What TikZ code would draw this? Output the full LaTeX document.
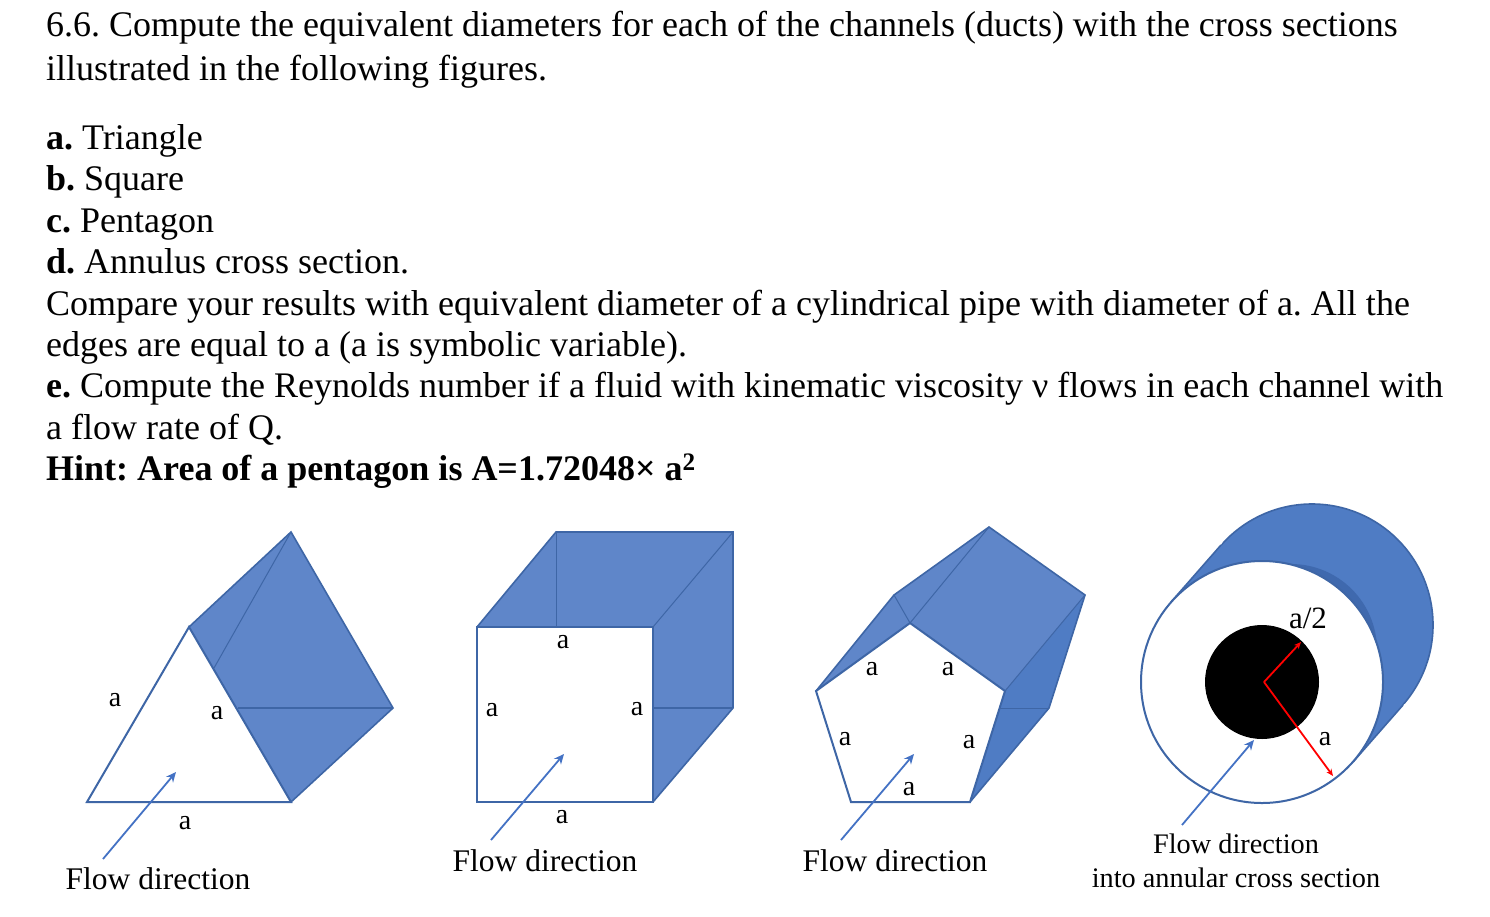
\documentclass[tikz,border=0pt]{standalone}
\usepackage{fontspec}
\setmainfont{Liberation Serif}
\usetikzlibrary{arrows.meta}
\frenchspacing
\definecolor{facefill}{HTML}{5F86C9}
\definecolor{sidefill}{HTML}{4F7CC4}
\definecolor{darkfill}{HTML}{3F69AE}
\definecolor{edgeblue}{HTML}{3E66A6}
\definecolor{flowblue}{HTML}{4472C4}
\tikzset{
    bodytext/.style={anchor=base west, inner sep=0pt, font=\fontsize{36}{40}\selectfont},
    edgelabel/.style={inner sep=0pt, font=\fontsize{28}{30}\selectfont},
    flowlabel/.style={inner sep=0pt, font=\fontsize{31.5}{36}\selectfont},
    flowarrow/.style={flowblue, line width=1.8pt, -{Stealth[length=10pt, width=9pt]}},
    radiusarrow/.style={red, line width=1.8pt, -{Stealth[length=7pt, width=6pt]}},
    faceline/.style={edgeblue, line width=1.6pt},
    outline/.style={edgeblue, line width=2pt, fill=white}
}
\begin{document}
\begin{tikzpicture}[x=1pt, y=-1pt]
    \useasboundingbox (0, 0) rectangle (1490, 916);
    \fill[white] (0, 0) rectangle (1490, 916);

    \node[bodytext] (line1) at (46, 36) {6.6. Compute the equivalent diameters for each of the channels (ducts) with the cross sections};
    \node[bodytext] (line2) at (46, 80) {illustrated in the following figures.};
    \node[bodytext] (itema) at (46, 149) {\textbf{a.} Triangle};
    \node[bodytext] (itemb) at (46, 190) {\textbf{b.} Square};
    \node[bodytext] (itemc) at (46, 232) {\textbf{c.} Pentagon};
    \node[bodytext] (itemd) at (46, 273) {\textbf{d.} Annulus cross section.};
    \node[bodytext] (line3) at (46, 315) {Compare your results with equivalent diameter of a cylindrical pipe with diameter of a. All the};
    \node[bodytext] (line4) at (46, 356) {edges are equal to a (a is symbolic variable).};
    \node[bodytext] (iteme) at (46, 397) {\textbf{e.} Compute the Reynolds number if a fluid with kinematic viscosity ν flows in each channel with};
    \node[bodytext] (line5) at (46, 439) {a flow rate of Q.};
    \node[bodytext] (hint) at (46, 480) {\textbf{Hint: Area of a pentagon is A=1.72048× a\textsuperscript{2}}};

    % triangle
    \coordinate (t1) at (87, 802);
    \coordinate (t2) at (291, 802);
    \coordinate (t3) at (189, 627);
    \coordinate (t4) at (291, 532);
    \coordinate (t5) at (393, 708);
    \coordinate (t6) at (214, 668);
    \coordinate (t7) at (238, 708);
    \fill[facefill] (t3) -- (t4) -- (t5) -- (t2) -- cycle;
    \draw[faceline] (t3) -- (t4) -- (t5) -- (t2);
    \draw[faceline, line width=1pt] (t4) -- (t6);
    \draw[faceline] (t7) -- (t5);
    \draw[outline] (t1) -- (t2) -- (t3) -- cycle;

    % square
    \coordinate (s1) at (477, 802);
    \coordinate (s2) at (653, 802);
    \coordinate (s3) at (653, 627);
    \coordinate (s4) at (477, 627);
    \coordinate (s5) at (556, 532);
    \coordinate (s6) at (733, 532);
    \coordinate (s7) at (733, 708);
    \coordinate (s8) at (653, 708);
    \coordinate (s9) at (556, 627);
    \fill[facefill] (s4) -- (s5) -- (s6) -- (s7) -- (s2) -- (s3) -- cycle;
    \draw[faceline] (s4) -- (s5) -- (s6) -- (s7) -- (s2);
    \draw[faceline, line width=1pt] (s5) -- (s9);
    \draw[faceline, line width=1pt] (s6) -- (s3);
    \draw[faceline] (s8) -- (s7);
    \draw[outline] (s1) rectangle (s3);

    % pentagon
    \coordinate (p1) at (851, 802);
    \coordinate (p2) at (970, 802);
    \coordinate (p3) at (1005, 691);
    \coordinate (p4) at (910, 623);
    \coordinate (p5) at (816, 691);
    \coordinate (p6) at (894, 595);
    \coordinate (p7) at (989, 527);
    \coordinate (p8) at (1085, 595);
    \coordinate (p9) at (1049, 708);
    \coordinate (p10) at (1000, 708);
    \fill[sidefill] (p3) -- (p8) -- (p9) -- (p2) -- cycle;
    \fill[facefill] (p5) -- (p6) -- (p7) -- (p8) -- (p3) -- (p4) -- cycle;
    \draw[faceline] (p5) -- (p6) -- (p7) -- (p8) -- (p9) -- (p2);
    \draw[faceline, line width=1pt] (p6) -- (p4) -- (p7);
    \draw[faceline, line width=1pt] (p8) -- (p3);
    \draw[faceline, line width=1pt] (p10) -- (p9);
    \draw[outline] (p1) -- (p2) -- (p3) -- (p4) -- (p5) -- cycle;

    % annulus
    \coordinate (c1) at (1262, 682);
    \coordinate (c2) at (1312, 625);
    \coordinate (r1) at (1264, 682);
    \coordinate (r2) at (1301, 642);
    \coordinate (r3) at (1333, 776);
    \fill[sidefill] (c2) circle[radius=121];
    \fill[sidefill] (1171, 602) -- (1221, 545) -- (1403, 705) -- (1353, 762) -- cycle;
    \draw[faceline] (1171, 602) -- (1221, 545);
    \draw[faceline] (1353, 762) -- (1403, 705);
    \begin{scope}
        \clip (1221, 545) -- (1312, 400) -- (1560, 625) -- (1403, 705) -- cycle;
        \draw[faceline] (c2) circle[radius=121];
    \end{scope}
    \fill[darkfill] (1291, 650) circle[radius=86];
    \draw[outline] (c1) circle[radius=121];
    \fill[black] (c1) circle[radius=57];
    \draw[radiusarrow] (r1) -- (r2);
    \draw[radiusarrow] (r1) -- (r3);

    % flow arrows
    \coordinate (f1s) at (103, 859);
    \coordinate (f1e) at (176, 772);
    \coordinate (f2s) at (491, 840);
    \coordinate (f2e) at (564, 754);
    \coordinate (f3s) at (841, 840);
    \coordinate (f3e) at (914, 754);
    \coordinate (f4s) at (1182, 825);
    \coordinate (f4e) at (1254, 740);
    \draw[flowarrow] (f1s) -- (f1e);
    \draw[flowarrow] (f2s) -- (f2e);
    \draw[flowarrow] (f3s) -- (f3e);
    \draw[flowarrow] (f4s) -- (f4e);

    \node[edgelabel] (ta) at (115, 700) {a};
    \node[edgelabel] (tb) at (217, 713) {a};
    \node[edgelabel] (tc) at (185, 823) {a};
    \node[edgelabel] (sa) at (563, 642) {a};
    \node[edgelabel] (sb) at (492, 710) {a};
    \node[edgelabel] (sc) at (637, 709) {a};
    \node[edgelabel] (sd) at (562, 817) {a};
    \node[edgelabel] (pa) at (872, 669) {a};
    \node[edgelabel] (pb) at (948, 669) {a};
    \node[edgelabel] (pc) at (845, 739) {a};
    \node[edgelabel] (pd) at (969, 742) {a};
    \node[edgelabel] (pe) at (909, 789) {a};
    \node[edgelabel, font=\fontsize{31}{34}\selectfont] (ca) at (1308, 618) {a/2};
    \node[edgelabel] (cb) at (1325, 739) {a};

    \node[flowlabel] (flow1) at (158, 879) {Flow direction};
    \node[flowlabel] (flow2) at (545, 861) {Flow direction};
    \node[flowlabel] (flow3) at (895, 861) {Flow direction};
    \node[flowlabel, font=\fontsize{28.3}{32}\selectfont] (flow4) at (1236, 844) {Flow direction};
    \node[flowlabel, font=\fontsize{28.3}{32}\selectfont] (flow5) at (1236, 878) {into annular cross section};
\end{tikzpicture}
\end{document}
